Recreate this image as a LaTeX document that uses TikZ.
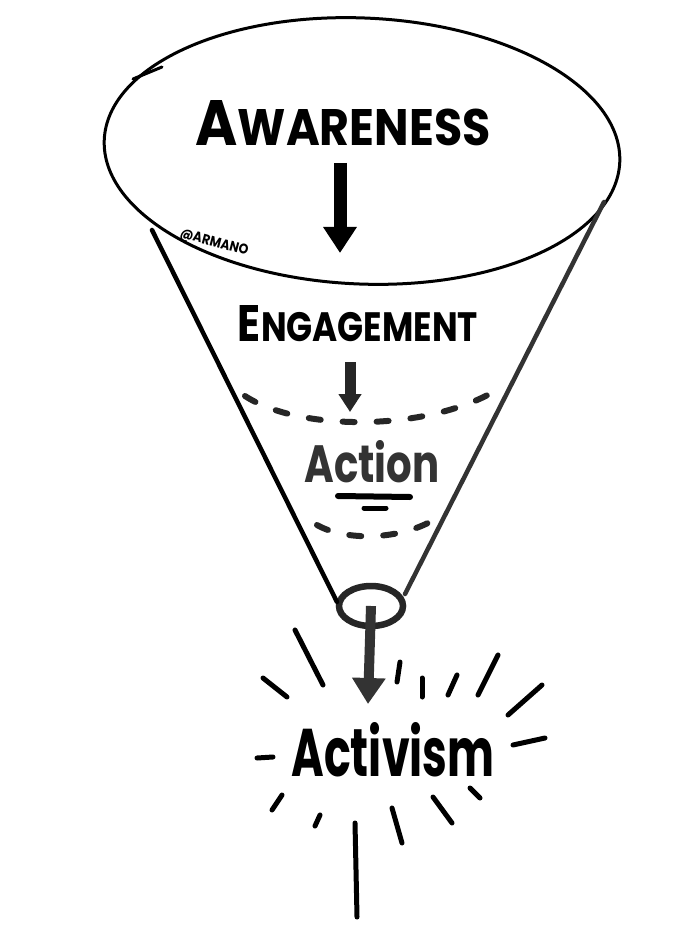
\documentclass[tikz,border=0pt]{standalone}
\usepackage{fontspec}
\setmainfont{Poppins}
\usepackage{graphicx}
\usetikzlibrary{shapes.geometric,arrows.meta}
\tikzset{
  rim/.style={draw=black,line width=3pt},
  side/.style={draw=black,line width=4.5pt,line cap=round},
  label/.style={inner sep=0pt,font=\bfseries},
  stage/.style={draw=black!85,line width=6pt,dash pattern=on 12pt off 22pt,line cap=round},
  flowarrow/.style={draw=black,line width=#1,-{Triangle[length=26pt,width=32pt]}},
  smallarrow/.style={draw=black!85,line width=#1,-{Triangle[length=18pt,width=22pt]}},
  ray/.style={draw=black,line width=5pt,line cap=round},
}
\begin{document}
\begin{tikzpicture}[x=1pt,y=-1pt]
\useasboundingbox[fill=white] (0,0) rectangle (700,933);
% funnel top ellipse
\node[rim,ellipse,minimum width=516pt,minimum height=266pt,rotate=-2.5] (top) at (362,151) {};
\coordinate (tk1) at (133,79);
\coordinate (tk2) at (162,67);
\draw[rim,line cap=round] (tk1) -- (tk2);
% ring at the bottom
\node[draw=black!85,line width=6.5pt,ellipse,minimum width=64pt,minimum height=40pt] (ring) at (371,606) {};
% funnel sides
\coordinate (tl) at (152,230);
\coordinate (tr) at (604,202);
\coordinate (bl) at (337,602);
\coordinate (br) at (405,594);
\draw[side] (tl) -- (bl);
\draw[side,draw=black!80] (tr) -- (br);
% texts
\node[label] (aw) at (343,123) {\resizebox{295pt}{45pt}{A\fontsize{8}{8}\selectfont WARENESS}};
\node[label,rotate=-15] (wm) at (214,243) {\resizebox{70pt}{10pt}{@ARMANO}};
\node[label] (en) at (358,324) {\resizebox{240pt}{36pt}{E\fontsize{8}{8}\selectfont NGAGEMENT}};
\node[label,text=black!80] (ac) at (372,462) {\resizebox{135pt}{42pt}{Action}};
\node[label] (av) at (393,750) {\resizebox{203pt}{54pt}{Activism}};
% arrows
\coordinate (a1s) at (340,163);
\coordinate (a1e) at (340,253);
\draw[flowarrow=13pt] (a1s) -- (a1e);
\coordinate (a2s) at (350,362);
\coordinate (a2e) at (350,412);
\draw[smallarrow=11pt] (a2s) -- (a2e);
\coordinate (a3e) at (368,704);
\draw[flowarrow=10pt,draw=black!80] (ring.center) -- (a3e);
% stage dividers
\coordinate (d1a) at (245,396);
\coordinate (d1b) at (500,388);
\draw[stage] (d1a) .. controls (300,432) and (430,432) .. (d1b);
\coordinate (d2a) at (317,525);
\coordinate (d2b) at (437,518);
\draw[stage] (d2a) .. controls (345,541) and (400,541) .. (d2b);
% underline of action
\coordinate (u1a) at (338,496);
\coordinate (u1b) at (410,497);
\draw[ray,line width=6pt] (u1a) -- (u1b);
\coordinate (u2a) at (364,508);
\coordinate (u2b) at (386,508);
\draw[ray] (u2a) -- (u2b);
% rays around activism
\foreach \xa/\ya/\xb/\yb in {295/630/323/685, 263/678/287/697, 400/662/397/682, 422/678/422/697,
  457/675/448/695, 498/655/478/695, 542/685/508/715, 257/758/273/757, 513/745/545/738,
  282/795/272/810, 320/815/315/826, 392/808/402/843, 433/797/452/823, 470/788/480/798}
  \draw[ray] (\xa,\ya) -- (\xb,\yb);
\coordinate (r12a) at (355,823);
\coordinate (r12b) at (357,917);
\draw[ray] (r12a) -- (r12b);
\end{tikzpicture}
\end{document}
